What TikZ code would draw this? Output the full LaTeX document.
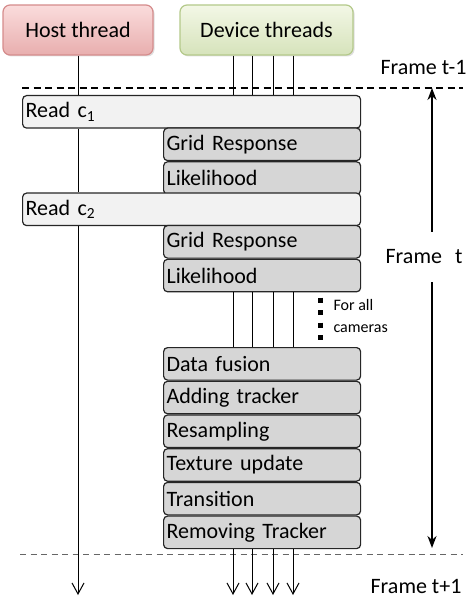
\documentclass[tikz,border=0pt]{standalone}
\usepackage{fontspec}
\setmainfont{Carlito}
\usetikzlibrary{arrows.meta,shadows}
\definecolor{hosttop}{HTML}{FADCDC}
\definecolor{hostbot}{HTML}{E8AEAE}
\definecolor{hostline}{HTML}{D58C8C}
\definecolor{devtop}{HTML}{F3F7E6}
\definecolor{devbot}{HTML}{D6E3BB}
\definecolor{devline}{HTML}{B4C98A}

\begin{document}
\begin{tikzpicture}[x=1pt, y=-1pt, font=\fontsize{22}{26}\selectfont,
  head/.style={rounded corners=7pt, line width=1.2pt, minimum height=50pt, inner sep=0pt,
    drop shadow={opacity=0.25, shadow xshift=1.5pt, shadow yshift=-1.5pt}},
  stage/.style={draw=black!85, line width=1.2pt, rounded corners=4pt, anchor=north west,
    minimum height=32.5pt, inner xsep=3pt, inner ysep=0pt, align=left},
  readbox/.style={stage, fill=black!5, text width=332pt},
  gpubox/.style={stage, fill=black!16, text width=191pt},
  thread/.style={line width=1pt},
  threadend/.style={thread, -{Straight Barb[length=11pt, width=12pt]}},
  span/.style={line width=1.8pt, -{Stealth[length=12pt, width=9pt]}}]
\useasboundingbox (0,0) rectangle (474,601);

% headers
\node [head, draw=hostline, top color=hosttop, bottom color=hostbot, minimum width=150pt] (host) at (78,30) {Host thread};
\node [head, draw=devline, top color=devtop, bottom color=devbot, minimum width=173pt] (device) at (266.5,30) {Device threads};

% frame borders
\draw [line width=1.4pt, dash pattern=on 7pt off 4.5pt] (22,88) -- (463,88);
\draw [black!60, line width=1pt, dash pattern=on 6pt off 4.5pt] (20,554) -- (463,554);
\node [anchor=east] (fprev) at (470,68) {Frame t-1};
\node [anchor=east] (fnext) at (465,586) {Frame t+1};

% stages
\node [readbox] (read1) at (22,95) {Read c\textsubscript{1}};
\node [gpubox] (grid1) at (163,127.5) {Grid Response};
\node [gpubox] (like1) at (grid1.south west) {Likelihood};
\node [readbox] (read2) at (22,192.5) {Read c\textsubscript{2}};
\node [gpubox] (grid2) at (163,225) {Grid Response};
\node [gpubox] (like2) at (grid2.south west) {Likelihood};
\node [gpubox] (fusion) at (163,347) {Data fusion};
\node [gpubox] (adding) at (fusion.south west) {Adding tracker};
\node [gpubox] (resamp) at (adding.south west) {Resampling};
\node [gpubox] (texture) at (resamp.south west) {Texture update};
\node [gpubox] (trans) at (texture.south west) {Transition};
\node [gpubox] (removing) at (trans.south west) {Removing Tracker};

% host thread
\coordinate (hostend) at (78,595);
\draw [thread] (host.south) -- (host.south |- read1.north);
\draw [thread] (host.south |- read1.south) -- (host.south |- read2.north);
\draw [threadend] (host.south |- read2.south) -- (hostend);

% device threads
\foreach \x in {233,252,273,293} {
  \draw [thread] (\x,0 |- device.south) -- (\x,0 |- read1.north);
  \draw [thread] (\x,0 |- like2.south) -- (\x,0 |- fusion.north);
  \draw [threadend] (\x,0 |- removing.south) -- (\x,595);
}

% for all cameras
\draw [line width=5pt, dash pattern=on 5pt off 7.5pt] (320,297.5) -- (320,342);
\node [anchor=west, align=left, font=\fontsize{16}{22}\selectfont] (cams) at (330,316) {For all\\cameras};

% frame t
\coordinate (ftop) at (432,88);
\coordinate (fbot) at (432,548);
\node [minimum height=50pt, inner sep=0pt] (framet) at (424,257) {Frame\hspace{13pt}t};
\draw [span] (framet.north -| ftop) -- (ftop);
\draw [span] (framet.south -| fbot) -- (fbot);
\end{tikzpicture}
\end{document}
